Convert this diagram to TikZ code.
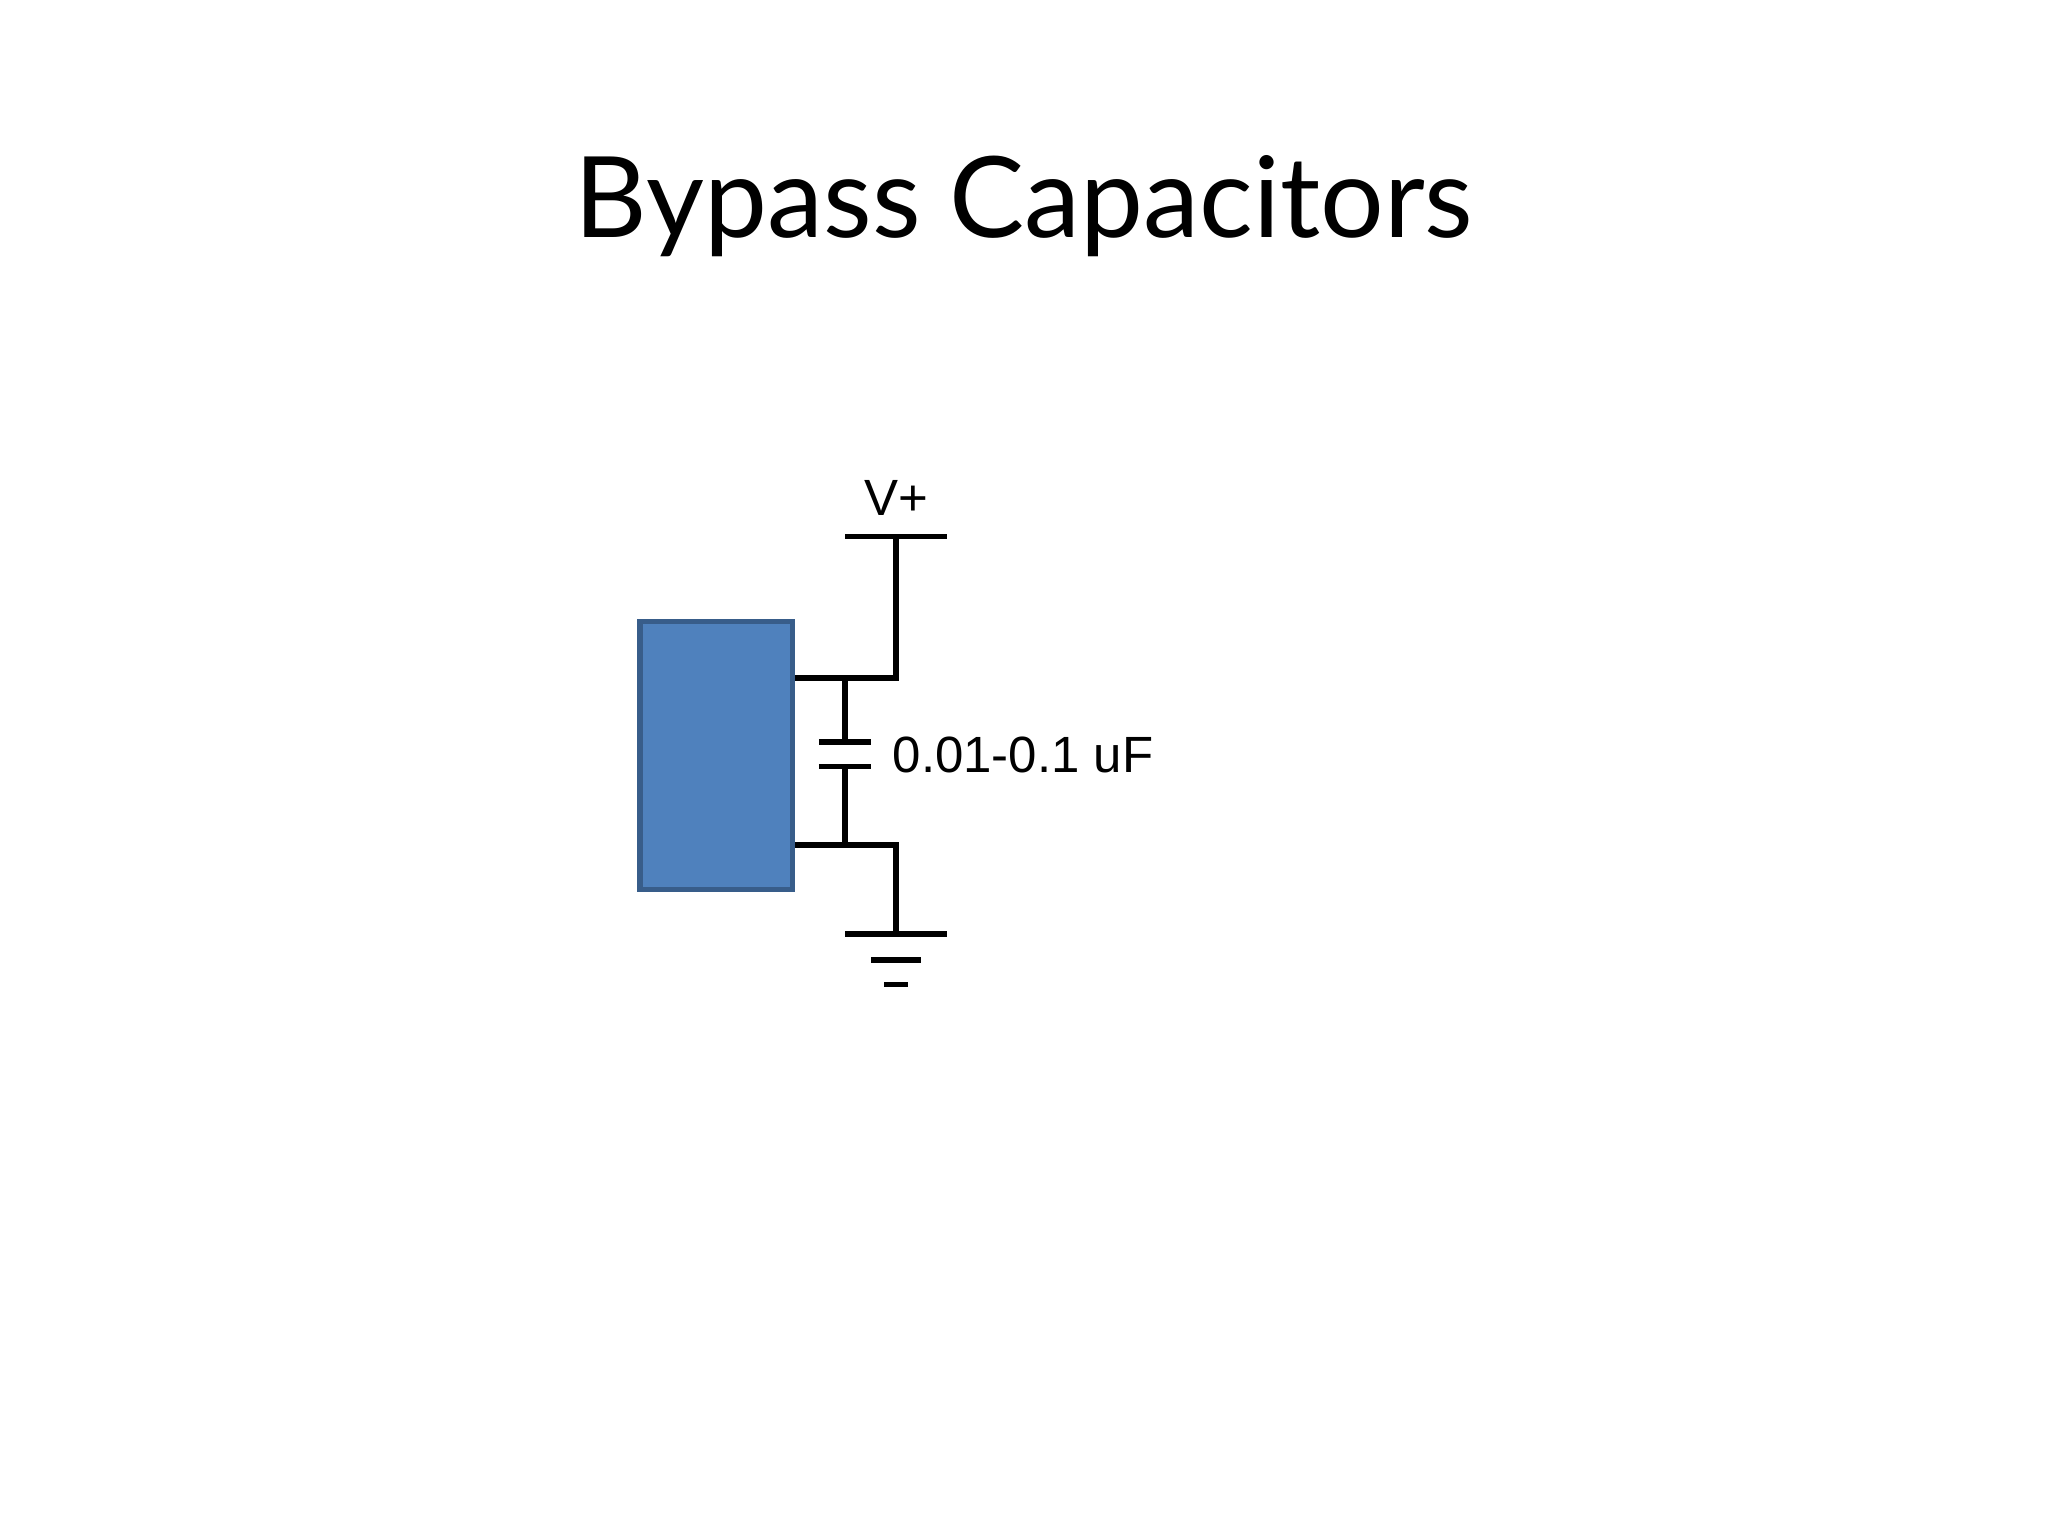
\documentclass[tikz,border=0pt]{standalone}
\usepackage{fontspec}
\setmainfont{Liberation Sans}
\newfontfamily\latofont{Lato}
\begin{document}
\begin{tikzpicture}[x=0.01306cm,y=-0.01306cm,
  wire/.style={line width=1.5pt,black},
  lbl/.style={font=\fontsize{14.5}{17}\selectfont,inner sep=0pt}]
\useasboundingbox (0,0) rectangle (1568,1176);
\node[font=\latofont\fontsize{32}{38}\selectfont] (title) at (784,158) {Bypass Capacitors};
\node[draw={rgb,255:red,56;green,93;blue,138},line width=1.5pt,fill={rgb,255:red,79;green,129;blue,189},minimum width=117*0.01306cm,minimum height=205*0.01306cm,inner sep=0pt,anchor=north west] (chip) at (488,474) {};
\coordinate (vt) at (686,411);
\coordinate (vj) at (686,519);
\coordinate (cj) at (647,519);
\coordinate (c1) at (647,568);
\coordinate (c2) at (647,587);
\coordinate (cb) at (647,647);
\coordinate (gj) at (686,647);
\coordinate (gt) at (686,715);
\draw[wire] (647,411) -- (725,411);
\draw[wire] (vt) -- (vj) -- (chip.north east |- vj);
\draw[wire] (cj) -- (c1);
\draw[wire] (627,568) -- (667,568);
\draw[wire] (627,587) -- (667,587);
\draw[wire] (c2) -- (cb);
\draw[wire] (chip.north east |- gj) -- (gj) -- (gt);
\draw[wire] (647,715) -- (725,715);
\draw[wire] (667,735) -- (705,735);
\draw[wire] (677,754) -- (695,754);
\node[lbl] (vp) at (686,381) {V+};
\node[lbl,anchor=west] (cap) at (683,578) {0.01-0.1 uF};
\end{tikzpicture}
\end{document}
